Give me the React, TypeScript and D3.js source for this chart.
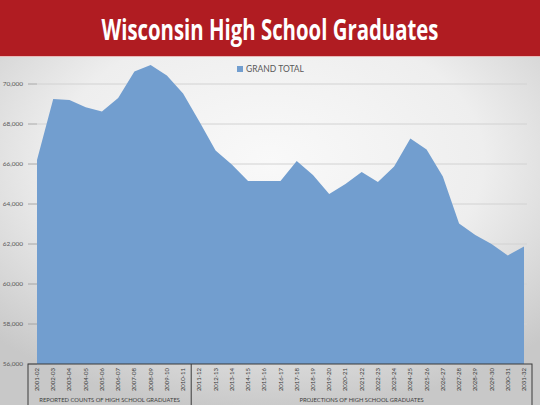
import React, { useLayoutEffect, useRef, useState } from "react";
import * as d3 from "d3";

const categories = [
  "2001-02", "2002-03", "2003-04", "2004-05", "2005-06", "2006-07", "2007-08", "2008-09",
  "2009-10", "2010-11", "2011-12", "2012-13", "2013-14", "2014-15", "2015-16", "2016-17",
  "2017-18", "2018-19", "2019-20", "2020-21", "2021-22", "2022-23", "2023-24", "2024-25",
  "2025-26", "2026-27", "2027-28", "2028-29", "2029-30", "2030-31", "2031-32",
];

const grandTotal = [
  66200, 69250, 69200, 68840, 68630, 69300, 70620, 70950, 70430, 69530, 68120, 66680,
  65980, 65150, 65150, 65150, 66150, 65450, 64500, 65000, 65600, 65100, 65870, 67280,
  66730, 65370, 63030, 62450, 62000, 61430, 61870,
];

const yTicks = [56000, 58000, 60000, 62000, 64000, 66000, 68000, 70000];

const groups = [
  { label: "REPORTED COUNTS OF HIGH SCHOOL GRADUATES", from: 0, to: 9 },
  { label: "PROJECTIONS OF HIGH SCHOOL GRADUATES", from: 10, to: 30 },
];

const title = "Wisconsin High School Graduates";
const seriesName = "GRAND TOTAL";

export default function App() {
  const W = 540;
  const H = 405;
  const x = d3.scalePoint<string>().domain(categories).range([37, 524]);
  const y = d3.scaleLinear().domain([56000, 71000]).range([364, 64]);
  const step = x.step();

  const titleRef = useRef<SVGTextElement>(null);
  const [sx, setSx] = useState(0.68);
  useLayoutEffect(() => {
    if (titleRef.current) {
      const w = titleRef.current.getComputedTextLength();
      if (w > 0) setSx(337 / w);
    }
  }, []);

  const area = d3
    .area<number>()
    .x((_, i) => x(categories[i]) as number)
    .y0(y(56000))
    .y1((d) => y(d));

  const fmt = d3.format(",");
  const boxLeft = 28;
  const boxRight = 532;
  const axisY = y(56000);

  return (
    <svg
      width={W}
      height={H}
      style={{ position: "absolute", left: 0, top: 0, display: "block" }}
    >
      <defs>
        <radialGradient id="bg" cx="50%" cy="30%" r="72%">
          <stop offset="0%" stopColor="#f9f9f9" />
          <stop offset="55%" stopColor="#eeeeee" />
          <stop offset="100%" stopColor="#c8c8c8" />
        </radialGradient>
      </defs>
      <rect x={0} y={56} width={W} height={H - 56} fill="url(#bg)" />
      <rect x={0} y={0} width={W} height={56} fill="#b01c22" />
      <line x1={0} x2={W} y1={56.5} y2={56.5} stroke="#e8b8b8" strokeWidth={1} />
      <g transform={`translate(${W / 2},40) scale(${sx},1)`}>
        <text
          ref={titleRef}
          x={0}
          y={0}
          textAnchor="middle"
          fontFamily="'Open Sans', sans-serif"
          fontWeight={700}
          fontSize={28}
          fill="#ffffff"
        >
          {title}
        </text>
      </g>

      {/* legend */}
      <rect x={237} y={66} width={6} height={6} fill="#729ecf" />
      <text x={246} y={72} fontFamily="Lato, sans-serif" fontSize={8.5} fill="#595959">
        {seriesName}
      </text>

      {/* gridlines and y labels */}
      {yTicks.map((t) => (
        <g key={t}>
          {t > 56000 && (
            <line x1={37} x2={527} y1={y(t)} y2={y(t)} stroke="#d2d2d2" strokeWidth={1} />
          )}
          <line x1={28} x2={37} y1={y(t)} y2={y(t)} stroke="#9a9a9a" strokeWidth={0.8} />
          <text
            x={23}
            y={y(t)}
            dy="0.35em"
            textAnchor="end"
            fontFamily="Lato, sans-serif"
            fontSize={6.5}
            fill="#595959"
          >
            {fmt(t)}
          </text>
        </g>
      ))}

      {/* area */}
      <path d={area(grandTotal) || ""} fill="#729ecf" />

      {/* category axis box */}
      <rect
        x={boxLeft}
        y={axisY}
        width={boxRight - boxLeft}
        height={60}
        fill="none"
        stroke="#3a3a3a"
        strokeWidth={1}
      />
      {groups.slice(1).map((g) => {
        const xd = (x(categories[g.from]) as number) - step / 2;
        return (
          <line key={g.label} x1={xd} x2={xd} y1={axisY} y2={H} stroke="#3a3a3a" strokeWidth={1} />
        );
      })}
      {categories.map((c) => (
        <text
          key={c}
          transform={`translate(${(x(c) as number) + 2},${axisY + 4}) rotate(-90)`}
          textAnchor="end"
          fontFamily="Lato, sans-serif"
          fontSize={6}
          fill="#404040"
        >
          {c}
        </text>
      ))}
      {groups.map((g, i) => {
        const x0 = i === 0 ? boxLeft : (x(categories[g.from]) as number) - step / 2;
        const x1 = i === groups.length - 1 ? boxRight : (x(categories[g.to]) as number) + step / 2;
        return (
          <text
            key={g.label}
            x={(x0 + x1) / 2}
            y={402}
            textAnchor="middle"
            fontFamily="Lato, sans-serif"
            fontSize={5.8}
            fill="#404040"
          >
            {g.label}
          </text>
        );
      })}
    </svg>
  );
}
